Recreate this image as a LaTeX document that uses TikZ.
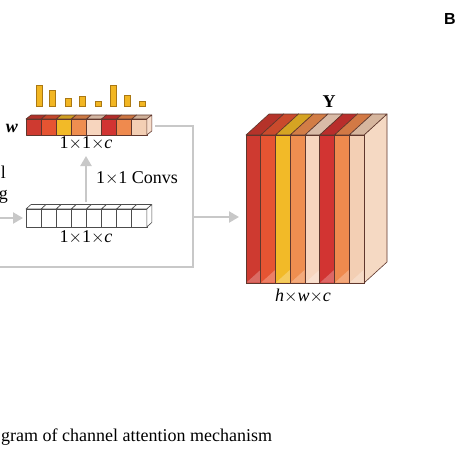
\documentclass[tikz,border=0pt]{standalone}
\usepackage{fontspec}
\setmainfont{Liberation Serif}
\newfontfamily\sansB{Liberation Sans}
\usetikzlibrary{arrows.meta}
\definecolor{cA}{RGB}{206,58,48}
\definecolor{cB}{RGB}{230,84,50}
\definecolor{cC}{RGB}{242,186,40}
\definecolor{cD}{RGB}{239,142,80}
\definecolor{cE}{RGB}{247,213,190}
\definecolor{cF}{RGB}{210,52,50}
\definecolor{cG}{RGB}{239,138,78}
\definecolor{cH}{RGB}{243,207,180}
\definecolor{edgeC}{RGB}{95,55,45}
\definecolor{lineG}{RGB}{200,200,200}
\definecolor{barF}{RGB}{242,182,34}
\definecolor{barE}{RGB}{170,120,20}
\tikzset{
  gline/.style={draw=lineG, line width=2.2pt},
  garrow/.style={draw=lineG, line width=2.2pt, -{Triangle[length=10pt,width=11pt]}},
  lbl/.style={inner sep=0pt, font=\fontsize{18}{20}\selectfont},
  cellface/.style={draw=edgeC, line width=0.6pt, line join=round},
  whiteface/.style={draw=black!70, fill=white, line width=0.6pt, line join=round},
  barbox/.style={draw=barE, fill=barF, line width=0.5pt}
}
\begin{document}
\begin{tikzpicture}[x=1pt,y=-1pt]
\useasboundingbox (0,0) rectangle (474,474);
\fill[white] (0,0) rectangle (474,474);

% ---- connectors (gray) ----
\coordinate (wend) at (155,126);
\coordinate (c1) at (193,126);
\coordinate (c2) at (193,267);
\coordinate (leftbot) at (0,267);
\coordinate (mid) at (193,217);
\coordinate (Yin) at (239,217);
\coordinate (leftin) at (0,218);
\coordinate (lowin) at (23,218);
\coordinate (lowtop) at (86,202);
\coordinate (wbot) at (86,156);
\draw[gline] (wend) -- (c1) -- (c2) -- (leftbot);
\draw[garrow] (mid) -- (Yin);
\draw[garrow] (leftin) -- (lowin);
\draw[garrow] (lowtop) -- (wbot);

% ---- bars ----
\foreach \bx/\bt in {39/85,52.5/90.7,68/98,82/96,98/101.7,113/85.7,127/95,142.5/101.7}{
  \draw[barbox] (\bx-3,\bt) rectangle (\bx+3,106);
}

% ---- colored vector w ----
\def\cw{15.1}
\foreach \i/\col in {0/cA,1/cB,2/cC,3/cD,4/cE,5/cF,6/cG,7/cH}{
  \pgfmathsetmacro{\xa}{26+\i*\cw}
  \pgfmathsetmacro{\xb}{26+(\i+1)*\cw}
  \draw[cellface, fill=\col!85!black] (\xa,119) -- (\xa+5,115) -- (\xb+5,115) -- (\xb,119) -- cycle;
  \draw[cellface, fill=\col] (\xa,119) rectangle (\xb,135);
}
\draw[cellface, fill=cH!70!white] (26+8*\cw,119) -- (26+8*\cw+5,115) -- (26+8*\cw+5,131) -- (26+8*\cw,135) -- cycle;

% ---- white vector ----
\foreach \i in {0,...,7}{
  \pgfmathsetmacro{\xa}{26+\i*\cw}
  \pgfmathsetmacro{\xb}{26+(\i+1)*\cw}
  \draw[whiteface] (\xa,209) -- (\xa+5,204.5) -- (\xb+5,204.5) -- (\xb,209) -- cycle;
  \draw[whiteface] (\xa,209) rectangle (\xb,227);
}
\draw[whiteface] (26+8*\cw,209) -- (26+8*\cw+5,204.5) -- (26+8*\cw+5,222.5) -- (26+8*\cw,227) -- cycle;

% ---- Y block ----
\def\sw{14.75}
\foreach \i/\col in {0/cA,1/cB,2/cC,3/cD,4/cE,5/cF,6/cG,7/cH}{
  \pgfmathsetmacro{\xa}{246+\i*\sw}
  \pgfmathsetmacro{\xb}{246+(\i+1)*\sw}
  \draw[cellface, fill=\col!80!white] (\xb,135) -- (\xb+23,114) -- (\xb+23,262) -- (\xb,283) -- cycle;
  \draw[cellface, fill=\col!88!black] (\xa,135) -- (\xa+23,114) -- (\xb+23,114) -- (\xb,135) -- cycle;
  \draw[cellface, fill=\col] (\xa,135) rectangle (\xb,283);
  \fill[\col!75!white] (\xa+0.4,282.6) -- (\xb-0.4,282.6) -- (\xb-0.4,270) -- cycle;
  \draw[edgeC, line width=0.6pt] (\xa,135) rectangle (\xb,283);
}

% ---- labels ----
\node[lbl, font=\fontsize{18}{20}\selectfont\bfseries\itshape] (wlab) at (12,128) {w};
\node[lbl] (dimw) at (86,143) {1$\times$1$\times$\textit{c}};
\node[lbl] (conv) at (137,178) {1$\times$1 Convs};
\node[lbl] (dimlow) at (86,237) {1$\times$1$\times$\textit{c}};
\node[lbl, font=\fontsize{18}{20}\selectfont\bfseries] (Ylab) at (329,102) {Y};
\node[lbl] (dimY) at (303,296) {\textit{h}$\times$\textit{w}$\times$\textit{c}};
\node[lbl, anchor=base east] (gl) at (6,178) {l};
\node[lbl, anchor=base east] (pl) at (8,199) {g};
\node[lbl, anchor=west] (cap) at (1,437) {gram of channel attention mechanism};
\node[inner sep=0pt, font=\fontsize{16}{18}\selectfont\sansB\bfseries] (B) at (450,19) {B};
\end{tikzpicture}
\end{document}
